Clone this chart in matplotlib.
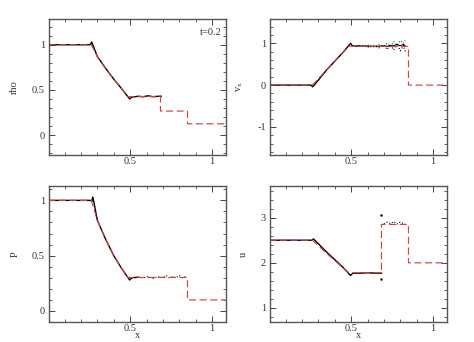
#!/usr/bin/env python3
# -*- coding: utf-8 -*-
"""
Sod shock tube at t=0.2: density, velocity, pressure and internal energy.
Simulation (black) against the exact Riemann solution (red dashed).
"""

import matplotlib
matplotlib.use("Agg")
import matplotlib.pyplot as plt
from matplotlib.ticker import MultipleLocator, FuncFormatter

plt.rcParams["font.family"] = "Liberation Serif"
plt.rcParams["mathtext.fontset"] = "custom"
plt.rcParams["mathtext.rm"] = "Liberation Serif"

# =========================
# DATA
# =========================
# exact solution nodes (head, tail, contact, shock)
x_exact = [0.0, 0.263, 0.30, 0.35, 0.40, 0.45, 0.486, 0.685, 0.685, 0.850, 0.850, 1.08]
rho_exact = [1.0, 1.0, 0.87, 0.74, 0.62, 0.51, 0.426, 0.426, 0.266, 0.266, 0.125, 0.125]
vx_exact = [0.0, 0.0, 0.154, 0.362, 0.569, 0.777, 0.927, 0.927, 0.927, 0.927, 0.0, 0.0]
p_exact = [1.0, 1.0, 0.82, 0.65, 0.50, 0.38, 0.303, 0.303, 0.303, 0.303, 0.1, 0.1]
u_exact = [2.5, 2.5, 2.38, 2.21, 2.05, 1.89, 1.78, 1.78, 2.85, 2.85, 2.0, 2.0]

# simulation profiles
x_rho_sim = [0.0, 0.255, 0.266, 0.272, 0.30, 0.35, 0.40, 0.45, 0.497, 0.51, 0.55, 0.58, 0.61, 0.64, 0.67, 0.69]
rho_sim = [1.0, 1.0, 1.03, 1.0, 0.87, 0.74, 0.62, 0.51, 0.40, 0.42, 0.43, 0.425, 0.435, 0.425, 0.43, 0.43]

x_vx_sim = [0.0, 0.255, 0.265, 0.275, 0.35, 0.45, 0.497, 0.505, 0.52, 0.55]
vx_sim = [0.0, 0.0, -0.04, 0.0, 0.36, 0.78, 1.0, 0.95, 0.93, 0.94]
x_vx_noise = [0.55, 0.58, 0.61, 0.64, 0.67, 0.70, 0.72, 0.74, 0.76, 0.78, 0.80, 0.82, 0.83]
vx_noise_a = [0.95, 0.92, 0.96, 0.91, 0.97, 0.93, 1.00, 0.92, 1.04, 0.95, 1.06, 1.00, 1.07]
vx_noise_b = [0.92, 0.95, 0.90, 0.94, 0.89, 0.95, 0.85, 0.97, 0.84, 0.99, 0.82, 0.95, 0.80]

x_p_sim = [0.0, 0.258, 0.266, 0.272, 0.278, 0.30, 0.35, 0.40, 0.45, 0.497, 0.51, 0.55]
p_sim = [1.0, 1.0, 0.99, 1.03, 0.99, 0.82, 0.65, 0.50, 0.38, 0.28, 0.30, 0.305]
x_p_noise = [0.55, 0.58, 0.61, 0.64, 0.67, 0.70, 0.72, 0.74, 0.76, 0.78, 0.80, 0.82, 0.84]
p_noise = [0.305, 0.30, 0.31, 0.295, 0.31, 0.30, 0.32, 0.30, 0.31, 0.30, 0.32, 0.30, 0.31]

x_u_sim = [0.0, 0.26, 0.27, 0.35, 0.45, 0.497, 0.51, 0.55, 0.60, 0.65, 0.685]
u_sim = [2.5, 2.5, 2.53, 2.24, 1.90, 1.72, 1.77, 1.77, 1.78, 1.77, 1.77]
x_u_noise = [0.70, 0.72, 0.74, 0.76, 0.78, 0.80, 0.82, 0.83]
u_noise = [2.86, 2.90, 2.87, 2.91, 2.86, 2.90, 2.87, 2.85]
x_u_spikes = [0.685, 0.685]
u_spikes = [1.65, 3.05]

panels = [
    # label, exact, sim x, sim y, ylim, major, minor
    ("rho", rho_exact, x_rho_sim, rho_sim, (-0.22, 1.285), 0.5, 0.1),
    (r"v$_{\rm x}$", vx_exact, x_vx_sim, vx_sim, (-1.67, 1.58), 1.0, 0.2),
    ("P", p_exact, x_p_sim, p_sim, (-0.10, 1.13), 0.5, 0.1),
    ("u", u_exact, x_u_sim, u_sim, (0.69, 3.70), 1.0, 0.2),
]

W, H = 474, 342
boxes = [(49, 19), (270, 19), (49, 186), (270, 186)]
TXT = "#333333"

fig = plt.figure(figsize=(W / 100, H / 100), dpi=100)
axes = []
for (px, py), (label, y_ex, xs, ys, ylim, major, minor) in zip(boxes, panels):
    ax = fig.add_axes([px / W, 1 - (py + 136) / H, 177 / W, 136 / H])
    ax.plot(xs, ys, color="black", lw=1.0, zorder=3)
    ax.plot(x_exact, y_ex, color="#d24545", lw=0.85, dashes=(6, 3), zorder=4)
    ax.set_xlim(0.005, 1.085)
    ax.set_ylim(*ylim)
    ax.xaxis.set_major_locator(MultipleLocator(0.5))
    ax.xaxis.set_minor_locator(MultipleLocator(0.1))
    ax.yaxis.set_major_locator(MultipleLocator(major))
    ax.yaxis.set_minor_locator(MultipleLocator(minor))
    ax.xaxis.set_major_formatter(FuncFormatter(lambda v, _: f"{v:g}" if v > 0 else ""))
    ax.yaxis.set_major_formatter(FuncFormatter(lambda v, _: f"{v:g}"))
    ax.tick_params(which="both", direction="in", top=True, right=True,
                   colors="#444444", labelcolor=TXT, labelsize=7.5)
    ax.tick_params(axis="x", pad=1.5)
    ax.tick_params(axis="y", pad=3)
    ax.tick_params(which="major", length=4, width=0.7)
    ax.tick_params(which="minor", length=2, width=0.6)
    for s in ax.spines.values():
        s.set_color("#555555")
        s.set_linewidth(1.0)
    ax.set_ylabel(label, fontsize=7.5, color=TXT, labelpad=9)
    axes.append(ax)

ax_rho, ax_v, ax_p, ax_u = axes

ax_v.plot(x_vx_noise, vx_noise_a, color="#2f5f3f", lw=0.8, ls=":", zorder=3)
ax_v.plot(x_vx_noise, vx_noise_b, color="black", lw=0.8, ls=":", zorder=3)
ax_v.plot(x_vx_noise, [0.5 * (a + b) for a, b in zip(vx_noise_a, vx_noise_b)],
          color="black", lw=0.8, zorder=3)
ax_p.plot(x_p_noise, p_noise, color="black", lw=0.8, ls=":", zorder=3)
ax_u.plot(x_u_noise, u_noise, color="black", lw=0.8, ls=":", zorder=3)
ax_u.plot(x_u_spikes, u_spikes, color="black", lw=0, marker=".", ms=1.5)

ax_rho.text(0.975, 0.9, "t=0.2", transform=ax_rho.transAxes, ha="right",
            va="center", fontsize=7.5, color=TXT)

for ax in (ax_p, ax_u):
    ax.text(0.5, -0.098, "x", transform=ax.transAxes, ha="center", va="center",
            fontsize=7.5, color=TXT)

fig.savefig("out.png", dpi=100)
